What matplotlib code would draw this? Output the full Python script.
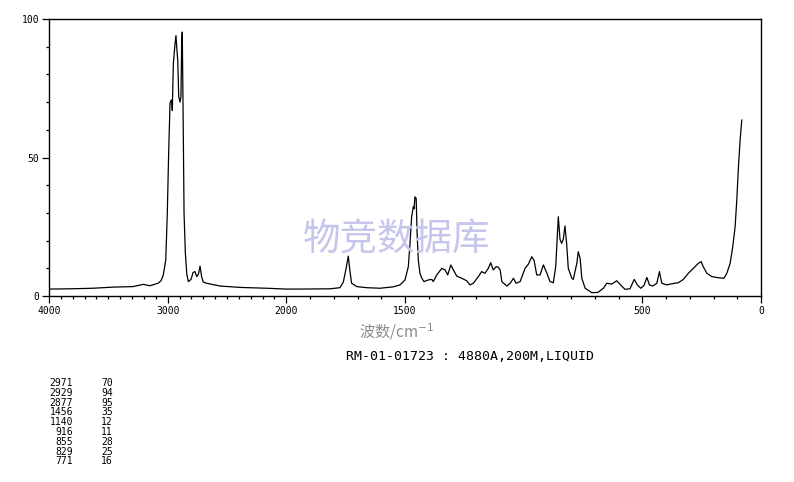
import numpy as np
import matplotlib
matplotlib.use('Agg')
import matplotlib.pyplot as plt
from matplotlib.ticker import FixedLocator, NullFormatter

# spectrum: wavenumber [cm-1], intensity
wavenumber = [4000, 3823, 3629, 3461, 3292, 3205, 3149, 3081, 3056, 3037,
              3016, 3003, 2991, 2980, 2972, 2966, 2961, 2952, 2938, 2930,
              2924, 2915, 2907, 2896, 2888, 2882, 2877, 2871, 2862, 2851,
              2839, 2826, 2803, 2786, 2770, 2755, 2740, 2727, 2714, 2700,
              2671, 2559, 2390, 2165, 2002,
              1942, 1816, 1774, 1760, 1748, 1739, 1732, 1725, 1703, 1661,
              1605, 1550, 1521, 1500, 1486, 1479, 1472, 1465, 1462, 1458,
              1453, 1449, 1444, 1437, 1429, 1420, 1402, 1387, 1381, 1366,
              1345, 1331, 1320, 1307, 1296, 1282, 1261, 1240, 1226, 1212,
              1191, 1177, 1163, 1149, 1139, 1128, 1116, 1107, 1099, 1092,
              1071, 1057, 1043, 1032, 1015, 994, 980, 966, 956, 945,
              931, 917, 903, 889, 875, 865, 854, 847, 840, 833,
              826, 819, 812, 797, 791, 776, 770, 762, 755, 741,
              713, 687, 664, 650, 629, 608, 594, 573, 552, 534,
              521, 507, 493, 481, 470, 456, 439, 428, 418, 397,
              376, 348, 327, 306, 285, 264, 252, 243, 228, 207,
              180, 156, 144, 130, 119, 109, 102, 95, 88, 81]
intensity = [2.5, 2.6, 2.8, 3.2, 3.4, 4.2, 3.7, 4.6, 5.5, 7.6,
             13, 30, 52.7, 69.7, 70.5, 70.8, 67, 84, 91, 94,
             90, 85, 72, 70, 72, 91, 95.3, 71, 30, 15.5,
             8, 5.2, 6, 8.5, 8.8, 7, 8, 10.8, 7, 5,
             4.6, 3.6, 3.1, 2.8, 2.5,
             2.5, 2.6, 3.0, 5, 10, 14.4, 9, 4.6, 3.4, 3.0,
             2.8, 3.3, 4, 5.8, 10.6, 19, 28.6, 32.2, 31.5, 35.8,
             35.3, 22.7, 13, 8.2, 6.4, 5.2, 5.8, 6, 5.2, 7.6,
             10, 9.4, 7.6, 11.2, 9.4, 7.2, 6.4, 5.5, 4, 4.6,
             7, 8.8, 8.2, 10, 12, 9.4, 10.6, 10.4, 9.4, 5.2,
             3.6, 4.6, 6.4, 4.6, 5.2, 10, 11.5, 14.2, 12.8, 7.6,
             7.6, 11.2, 8.4, 5.2, 4.8, 10.6, 28.6, 20.5, 19, 20.5,
             25.3, 19, 10, 6.4, 6, 11.8, 16, 13.5, 6.4, 2.8,
             1.2, 1.3, 2.8, 4.6, 4.3, 5.5, 4.2, 2.4, 2.6, 6,
             4, 2.8, 3.8, 6.7, 4, 3.6, 4.6, 8.8, 4.6, 4,
             4.4, 4.8, 6, 8.2, 10, 11.8, 12.4, 10.5, 8.2, 7,
             6.6, 6.4, 8.2, 11.8, 17.8, 25, 34.7, 46.7, 56.3, 63.5]

x_major = [4000, 3000, 2000, 1500, 500, 0]
x_labels = ['4000', '3000', '2000', '1500', '500', '0']
y_major = [0, 50, 100]

peak_pos = ['2971', '2929', '2877', '1456', '1140', '916', '855', '829', '771']
peak_int = ['70', '94', '95', '35', '12', '11', '28', '25', '16']


# 4000-2000 is drawn at half the scale of 2000-0
def fwd(x):
    x = np.asarray(x, dtype=float)
    return np.where(x > 2000, 2000 + (x - 2000) / 2, x)


def inv(u):
    u = np.asarray(u, dtype=float)
    return np.where(u > 2000, 2000 + (u - 2000) * 2, u)


fig = plt.figure(figsize=(7.94, 4.82), dpi=100)
ax = fig.add_axes([49 / 794, 1 - 296 / 482, 712 / 794, 277 / 482])
ax.set_xscale('function', functions=(fwd, inv))
ax.set_xlim(4000, 0)
ax.set_ylim(0, 100)

ax.plot(wavenumber, intensity, color='black', lw=0.9, zorder=3)

mono = 'DejaVu Sans Mono'
ax.xaxis.set_major_locator(FixedLocator(x_major))
ax.set_xticklabels(x_labels, fontsize=7, family=mono)
ax.xaxis.set_minor_locator(FixedLocator(np.arange(0, 4001, 100)))
ax.xaxis.set_minor_formatter(NullFormatter())
ax.yaxis.set_major_locator(FixedLocator(y_major))
ax.set_yticklabels([str(v) for v in y_major], fontsize=7, family=mono)
ax.yaxis.set_minor_locator(FixedLocator(np.arange(0, 101, 10)))
ax.tick_params(which='major', length=5, width=0.9, direction='out', pad=2)
ax.tick_params(which='minor', length=2.5, width=0.9, direction='out')
for s in ax.spines.values():
    s.set_linewidth(1.0)

# watermark
fig.text(397 / 794, 1 - 240 / 482, '物竞数据库', color='#c6c6ec',
         fontsize=27, family=['Noto Sans CJK SC', 'DejaVu Sans'],
         ha='center', va='center', zorder=1)

fig.text(397 / 794, 1 - 332 / 482, '波数/cm$^{-1}$', color='#8c8c8c',
         fontsize=11, family=['Noto Sans CJK SC', 'DejaVu Sans'],
         ha='center', va='center')
fig.text(470 / 794, 1 - 357 / 482, 'RM-01-01723 : 4880A,200M,LIQUID',
         fontsize=9.5, family=mono, ha='center', va='center')

for i in range(len(peak_pos)):
    yy = 1 - (383 + i * 9.8) / 482
    fig.text(73 / 794, yy, peak_pos[i], fontsize=7, family=mono,
             ha='right', va='center')
    fig.text(101 / 794, yy, peak_int[i], fontsize=7, family=mono,
             ha='left', va='center')

fig.savefig('out.png', dpi=100)
